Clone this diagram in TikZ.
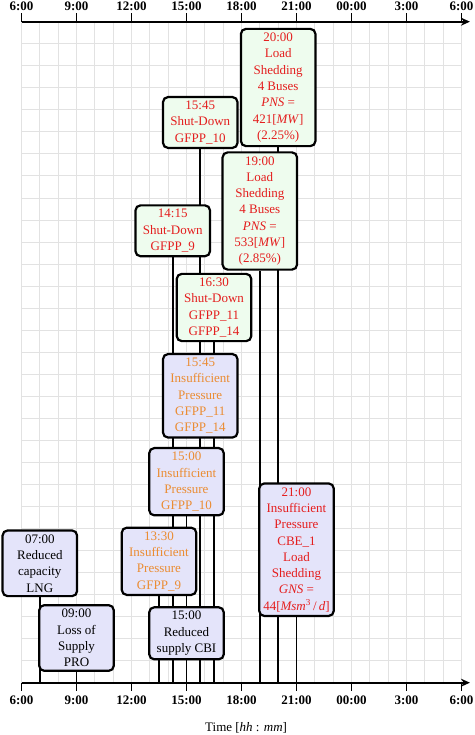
\documentclass[tikz,border=0pt]{standalone}
\usepackage{fontspec}
\setmainfont{Liberation Serif}
\usetikzlibrary{arrows.meta,backgrounds}
\definecolor{gfill}{RGB}{238,252,238}
\definecolor{bfill}{RGB}{228,228,250}
\definecolor{redtxt}{RGB}{228,30,30}
\definecolor{orgtxt}{RGB}{235,140,50}
\definecolor{gridc}{RGB}{226,226,226}
\tikzset{
  evbox/.style={draw=black, line width=2.2pt, rounded corners=5pt, align=center,
    minimum width=74.5pt, inner xsep=2pt, inner ysep=4pt,
    font=\fontsize{13}{16.3}\selectfont},
  greenbox/.style={evbox, fill=gfill, text=redtxt},
  bluered/.style={evbox, fill=bfill, text=redtxt},
  blueorg/.style={evbox, fill=bfill, text=orgtxt},
  blueblk/.style={evbox, fill=bfill, text=black},
  evline/.style={draw=black, line width=1.8pt},
  gridline/.style={draw=gridc, line width=0.9pt},
  axisline/.style={draw=black, line width=1.8pt, -{Stealth[length=9pt,width=8pt]}},
  tickline/.style={draw=black, line width=1.4pt},
  ticklab/.style={font=\fontsize{13}{15}\selectfont\bfseries, anchor=base, inner sep=0pt},
}
\begin{document}
\begin{tikzpicture}[x=18.333pt,y=-1pt]
\useasboundingbox (0pt,0pt) rectangle (474pt,-735pt);
\begin{scope}[xshift=21.5pt]
% event boxes
\node[greenbox] (b2000) at (14,87.5) {20:00\\Load\\Shedding\\4 Buses\\\textit{PNS} =\\421[\textit{MW}]\\(2.25\%)};
\node[greenbox] (b1545sd) at (9.75,122.5) {15:45\\Shut-Down\\GFPP\_10};
\node[greenbox] (b1900) at (13,211) {19:00\\Load\\Shedding\\4 Buses\\\textit{PNS} =\\533[\textit{MW}]\\(2.85\%)};
\node[greenbox] (b1415) at (8.25,230.8) {14:15\\Shut-Down\\GFPP\_9};
\node[greenbox] (b1630) at (10.5,307.5) {16:30\\Shut-Down\\GFPP\_11\\GFPP\_14};
\node[blueorg] (b1545ip) at (9.75,395.8) {15:45\\Insufficient\\Pressure\\GFPP\_11\\GFPP\_14};
\node[blueorg] (b1500ip) at (9,481.7) {15:00\\Insufficient\\Pressure\\GFPP\_10};
\node[bluered] (b2100) at (15,549.7) {21:00\\Insufficient\\Pressure\\CBE\_1\\Load\\Shedding\\\textit{GNS} =\\44[\textit{Msm}\textsuperscript{3}\,/\,\textit{d}]};
\node[blueblk] (b0700) at (1,563.3) {07:00\\Reduced\\capacity\\LNG};
\node[blueorg] (b1330) at (7.5,561.3) {13:30\\Insufficient\\Pressure\\GFPP\_9};
\node[blueblk] (b0900) at (3,638) {09:00\\Loss of\\Supply\\PRO};
\node[blueblk] (b1500cbi) at (9,633.3) {15:00\\Reduced\\supply CBI};
% axis end points of event lines
\coordinate (e0700) at (1,682.7);
\coordinate (e0900) at (3,682.7);
\coordinate (e1330) at (7.5,682.7);
\coordinate (e1415) at (8.25,682.7);
\coordinate (e1500) at (9,682.7);
\coordinate (e1545) at (9.75,682.7);
\coordinate (e1630) at (10.5,682.7);
\coordinate (e1900) at (13,682.7);
\coordinate (e2000) at (14,682.7);
\coordinate (e2100) at (15,682.7);
\begin{scope}[on background layer]
  \foreach \i in {0,...,24} \draw[gridline] (\i,21.7) -- (\i,682.7);
  \foreach \j in {0,...,30} \draw[gridline] (0,{21.7+22.033*\j}) -- (24,{21.7+22.033*\j});
  \draw[evline] (b0700) -- (e0700);
  \draw[evline] (b0900) -- (e0900);
  \draw[evline] (b1330) -- (e1330);
  \draw[evline] (b1415) -- (e1415);
  \draw[evline] (b1500ip) -- (e1500);
  \draw[evline] (b1545sd) -- (e1545);
  \draw[evline] (b1630) -- (e1630);
  \draw[evline] (b1900) -- (e1900);
  \draw[evline] (b2000) -- (e2000);
  \draw[evline] (b2100) -- (e2100);
\end{scope}
% axes
\coordinate (topstart) at (0,21.7);
\coordinate (topend) at (24.46,21.7);
\coordinate (botstart) at (0,682.7);
\coordinate (botend) at (24.46,682.7);
\draw[axisline] (topstart) -- (topend);
\draw[axisline] (botstart) -- (botend);
\foreach \i/\lab in {0/6:00,3/9:00,6/12:00,9/15:00,12/18:00,15/21:00,18/00:00,21/3:00,24/6:00}{
  \draw[tickline] (\i,21.7) -- (\i,13.5);
  \draw[tickline] (\i,682.7) -- (\i,690.5);
  \node[ticklab] (tt\i) at (\i,10.2) {\lab};
  \node[ticklab] (bt\i) at (\i,704) {\lab};
}
\node[anchor=base, inner sep=0pt, font=\fontsize{13}{15}\selectfont] (tlab) at (12.25,731.5) {Time [\textit{hh} : \textit{mm}]};
\end{scope}
\end{tikzpicture}
\end{document}
